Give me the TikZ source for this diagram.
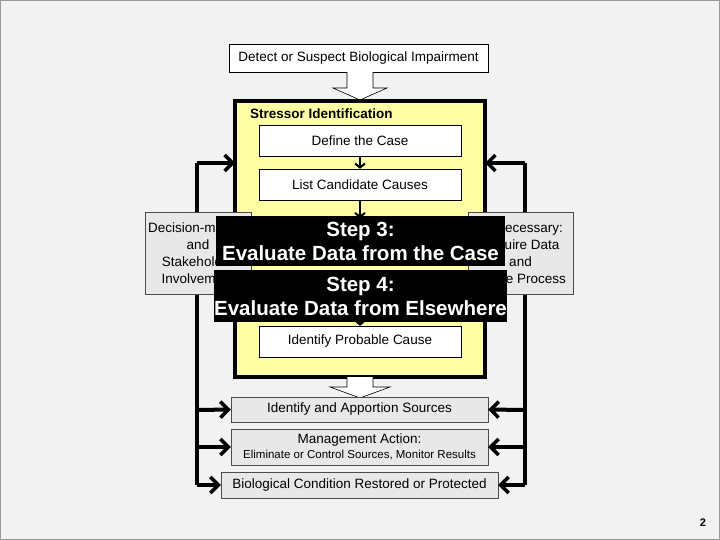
\documentclass[tikz,border=0pt]{standalone}
\usepackage{fontspec}
\setmainfont{Liberation Sans}
\usetikzlibrary{arrows.meta,positioning}
\definecolor{pagegray}{HTML}{F2F2F2}
\definecolor{boxgray}{HTML}{E8E8E8}
\definecolor{siyellow}{HTML}{FFFFA6}
\begin{document}
\begin{tikzpicture}[x=1pt,y=-1pt,
    sibox/.style={draw=black,fill=white,minimum width=202pt,minimum height=31pt,inner sep=0pt,font=\fontsize{13.5}{16}\selectfont},
    greybox/.style={draw=black!70,fill=boxgray,inner sep=0pt,font=\fontsize{13.5}{17}\selectfont,align=center},
    stepbox/.style={fill=black,text=white,inner sep=0pt,minimum width=289pt,font=\bfseries\fontsize{20.5}{24}\selectfont,align=center},
    feed/.style={line width=4pt,-{Straight Barb[length=8pt,width=16pt,line width=3.5pt]}},
    down/.style={line width=2pt,-{Straight Barb[length=4pt,width=10pt]}},
    hollow/.style={draw=black,fill=white,line width=0.6pt}]
	\fill[pagegray] (0,0) rectangle (720,540);
	\draw[black!40] (0.5,0.5) rectangle (719.5,539.5);
	% top
	\node[draw=black,fill=white,minimum width=259pt,minimum height=28pt,inner sep=0pt,font=\fontsize{13.5}{16}\selectfont] (detect) at (358.5,58) {Detect or Suspect Biological Impairment};
	\draw[hollow] (347,72) -- (347,88) -- (333,88) -- (360,100) -- (387,88) -- (373,88) -- (373,72);
	% stressor identification
	\draw[line width=4pt,fill=siyellow] (235,101) rectangle (485,377);
	\node[anchor=west,font=\bfseries\fontsize{13.5}{16}\selectfont,inner sep=0pt] (si) at (250,114) {Stressor Identification};
	\node[sibox] (define) at (360,140.5) {Define the Case};
	\node[sibox] (list) at (360,184.5) {List Candidate Causes};
	\node[sibox] (probable) at (360,341.5) {Identify Probable Cause};
	\draw[down] (define) -- (list);
	\draw[down] (list.south) -- ++(0,18);
	\draw[down] (360,300) -- (probable.north);
	\draw[hollow] (347,377) -- (347,387) -- (330,387) -- (360,398) -- (390,387) -- (373,387) -- (373,377);
	% below
	\node[greybox,minimum width=257pt,minimum height=25pt] (sources) at (359.5,409.5) {Identify and Apportion Sources};
	\node[greybox,minimum width=257pt,minimum height=36pt,font=\fontsize{13.5}{15}\selectfont] (action) at (359.5,447) {Management Action:\\{\fontsize{11.5}{13}\selectfont Eliminate or Control Sources, Monitor Results}};
	\node[greybox,minimum width=277pt,minimum height=26pt] (restored) at (359.5,485) {Biological Condition Restored or Protected};
	% feedback loops
	\coordinate (lt) at (197,163); \coordinate (lb) at (197,485);
	\coordinate (rt) at (525,163); \coordinate (rb) at (525,485);
	\draw[line width=4pt] (lt) -- (lb);
	\draw[line width=4pt] (rt) -- (rb);
	\draw[feed] (lt) -- (235,163);
	\draw[feed] (197,410) -- (sources.west);
	\draw[feed] (197,447) -- (action.west);
	\draw[feed] (lb) -- (restored.west);
	\draw[feed] (rt) -- (485,163);
	\draw[feed] (525,410) -- (sources.east);
	\draw[feed] (525,447) -- (action.east);
	\draw[feed] (rb) -- (restored.east);
	\node[greybox,minimum width=106pt,minimum height=82pt] (decision) at (198,253) {Decision-making\\and\\Stakeholder\\Involvement};
	\node[greybox,minimum width=105pt,minimum height=82pt] (iterate) at (520.5,253) {As necessary:\\Acquire Data\\and\\Iterate Process};
	% steps 3 and 4
	\node[stepbox,minimum height=50pt] (step3) at (360.5,241) {Step 3:\\Evaluate Data from the Case};
	\node[stepbox,minimum height=52pt] (step4) at (360.5,296) {Step 4:\\Evaluate Data from Elsewhere};
	\node[font=\bfseries\fontsize{11}{12}\selectfont] (page) at (703,523) {2};
\end{tikzpicture}
\end{document}
